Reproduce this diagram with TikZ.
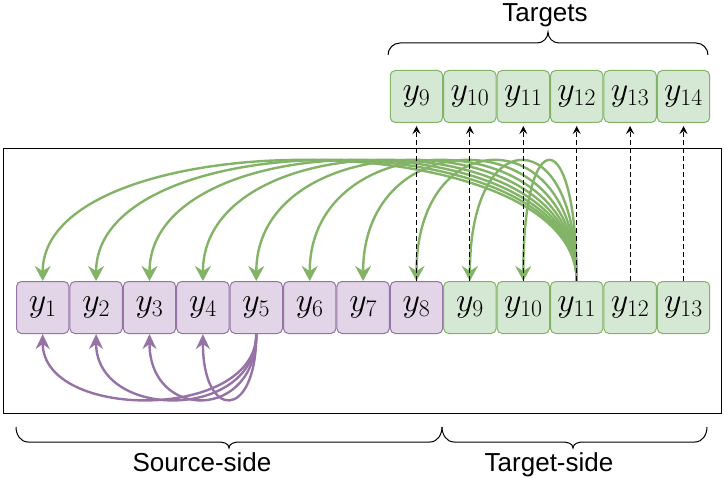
\RequirePackage{fix-cm}
\documentclass[tikz,border=0pt]{standalone}
\usepackage{fontspec}
\setsansfont{Liberation Sans}
\usetikzlibrary{positioning, arrows.meta}
\definecolor{srcfill}{HTML}{E1D5E7}
\definecolor{srcline}{HTML}{9673A6}
\definecolor{tgtfill}{HTML}{D5E8D4}
\definecolor{tgtline}{HTML}{82B366}
\tikzset{
	srcbox/.style={draw=srcline, fill=srcfill, rectangle, rounded corners=5pt, line width=1pt, inner sep=0pt, minimum width=52.4pt, minimum height=52pt, font=\fontsize{34}{40}\selectfont},
	tgtbox/.style={srcbox, draw=tgtline, fill=tgtfill},
	% texts under and over the brackets
	sidetext/.style={font=\sffamily\fontsize{26}{30}\selectfont, anchor=base, inner sep=0pt},
	bracket/.style={draw, line width=1pt},
}

\begin{document}
\begin{tikzpicture}[x=1pt, y=1pt]
	\useasboundingbox (0,0) rectangle (725,477);
	
	\node (tok1) [srcbox] at (42.7,169.5) {$y_{1}$};
	\node (tok2) [srcbox, right=0pt of tok1] {$y_{2}$};
	\node (tok3) [srcbox, right=0pt of tok2] {$y_{3}$};
	\node (tok4) [srcbox, right=0pt of tok3] {$y_{4}$};
	\node (tok5) [srcbox, right=0pt of tok4] {$y_{5}$};
	\node (tok6) [srcbox, right=0pt of tok5] {$y_{6}$};
	\node (tok7) [srcbox, right=0pt of tok6] {$y_{7}$};
	\node (tok8) [srcbox, right=0pt of tok7] {$y_{8}$};
	\node (tok9) [tgtbox, right=0pt of tok8] {$y_{9}$};
	\node (tok10) [tgtbox, right=0pt of tok9] {$y_{10}$};
	\node (tok11) [tgtbox, right=0pt of tok10] {$y_{11}$};
	\node (tok12) [tgtbox, right=0pt of tok11] {$y_{12}$};
	\node (tok13) [tgtbox, right=0pt of tok12] {$y_{13}$};
	
	\node (tar9) [tgtbox, above=158pt of tok8] {$y_{9}$};
	\node (tar10) [tgtbox, right=0pt of tar9] {$y_{10}$};
	\node (tar11) [tgtbox, right=0pt of tar10] {$y_{11}$};
	\node (tar12) [tgtbox, right=0pt of tar11] {$y_{12}$};
	\node (tar13) [tgtbox, right=0pt of tar12] {$y_{13}$};
	\node (tar14) [tgtbox, right=0pt of tar13] {$y_{14}$};
	
	\draw [line width=1pt] (3,64) rectangle (721,328);
	
	% brackets
	\draw [bracket] (388,422) to[out=90,in=180] (400,434) -- (537,434) to[out=0,in=-90] (548,445) to[out=-90,in=180] (559,434) -- (696,434) to[out=0,in=90] (708,422);
	\draw [bracket] (16,50) to[out=-90,in=180] (28,35) -- (218,35) to[out=0,in=90] (229,29) to[out=90,in=180] (240,35) -- (430,35) to[out=0,in=-90] (442,50);
	\draw [bracket] (442,50) to[out=-90,in=180] (454,35) -- (562,35) to[out=0,in=90] (573,29) to[out=90,in=180] (584,35) -- (695,35) to[out=0,in=-90] (707,50);
	
	\node (targets) [sidetext] at (545,455) {Targets};
	\node (srcside) [sidetext] at (202,6) {Source-side};
	\node (tgtside) [sidetext] at (549,6) {Target-side};
	
	\begin{scope}[line width=2.4pt, tgtline, -{Stealth[length=15pt, width=16pt, inset=5pt]}]
		\draw (tok11.north) .. controls +(0,160) and +(0,160) .. (tok1.north);
		\draw (tok11.north) .. controls +(0,160) and +(0,160) .. (tok2.north);
		\draw (tok11.north) .. controls +(0,160) and +(0,160) .. (tok3.north);
		\draw (tok11.north) .. controls +(0,160) and +(0,160) .. (tok4.north);
		\draw (tok11.north) .. controls +(0,160) and +(0,160) .. (tok5.north);
		\draw (tok11.north) .. controls +(0,160) and +(0,160) .. (tok6.north);
		\draw (tok11.north) .. controls +(0,160) and +(0,160) .. (tok7.north);
		\draw (tok11.north) .. controls +(0,160) and +(0,160) .. (tok8.north);
		\draw (tok11.north) .. controls +(0,160) and +(0,160) .. (tok9.north);
		\draw (tok11.north) .. controls +(0,160) and +(0,160) .. (tok10.north);
	\end{scope}
	
	\begin{scope}[line width=2.4pt, srcline, -{Stealth[length=15pt, width=14pt, inset=5pt]}]
		\draw (tok5.south) .. controls +(0,-87) and +(0,-87) .. (tok1.south);
		\draw (tok5.south) .. controls +(0,-87) and +(0,-87) .. (tok2.south);
		\draw (tok5.south) .. controls +(0,-87) and +(0,-87) .. (tok3.south);
		\draw (tok5.south) .. controls +(0,-87) and +(0,-87) .. (tok4.south);
	\end{scope}
	
	\begin{scope}[line width=1pt, black, dash pattern=on 5pt off 3pt, shorten >=3pt, -{Stealth[length=8pt, width=8pt, inset=3pt]}]
		\draw (tok8.north) -- (tar9.south);
		\draw (tok9.north) -- (tar10.south);
		\draw (tok10.north) -- (tar11.south);
		\draw (tok11.north) -- (tar12.south);
		\draw (tok12.north) -- (tar13.south);
		\draw (tok13.north) -- (tar14.south);
	\end{scope}
\end{tikzpicture}
\end{document}
